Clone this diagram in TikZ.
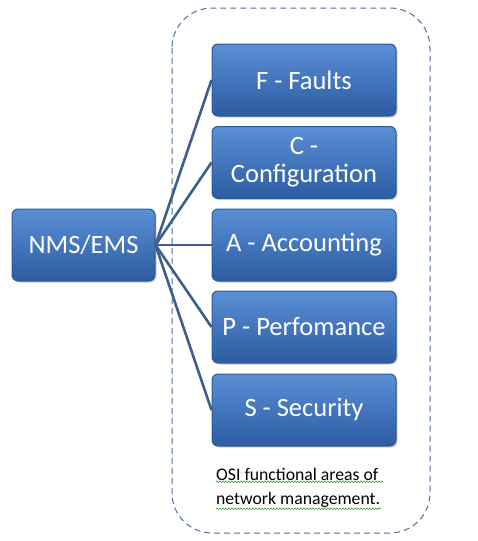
\documentclass[tikz,border=0pt]{standalone}
\usepackage{fontspec}
\setmainfont{Carlito}
\usetikzlibrary{decorations.pathmorphing,shadows}
\definecolor{boxtop}{HTML}{5A8FD6}
\definecolor{boxmid}{HTML}{3A70BA}
\definecolor{boxbot}{HTML}{2C5CA2}
\definecolor{boxedge}{HTML}{2E5A95}
\definecolor{linkc}{HTML}{3D5F8C}
\definecolor{dashc}{HTML}{4D6F9C}
\definecolor{wavyc}{HTML}{3FA040}
\tikzset{
  fbox/.style={rectangle, rounded corners=6pt, draw=boxedge, line width=1pt,
    top color=boxtop, middle color=boxmid, bottom color=boxbot, text=white,
    minimum width=184pt, minimum height=72pt, inner sep=2pt, align=center,
    font=\fontsize{26.5}{28}\selectfont,
    drop shadow={shadow xshift=1.5pt, shadow yshift=-1.5pt, opacity=0.35}},
  mainbox/.style={fbox, minimum width=143pt},
  link/.style={draw=linkc, line width=2.6pt},
  group/.style={draw=dashc, line width=1pt, dash pattern=on 6pt off 4pt, rounded corners=40pt},
  note/.style={anchor=base west, inner sep=0pt, font=\fontsize{17.7}{20}\selectfont, text=black},
  wavy/.style={draw=wavyc, line width=0.6pt, decorate, decoration={snake, amplitude=0.9pt, segment length=3pt}}
}
\begin{document}
\begin{tikzpicture}[x=1pt,y=-1pt]
\useasboundingbox (0,0) rectangle (477,541);
\draw[group] (172,8) rectangle (430,533);
\node[mainbox] (nms) at (83.5,245) {NMS/EMS};
\node[fbox] (f) at (304,80) {F - Faults};
\node[fbox] (c) at (304,162.5) {C -\\Configuration};
\node[fbox] (a) at (304,245) {A - Accounting};
\node[fbox] (p) at (304,327) {P - Perfomance};
\node[fbox] (s) at (304,410) {S - Security};
\foreach \t in {f,c,a,p,s}{
  \draw[link] (nms.east) -- (\t.west);
}
\node[note] (n1) at (216,480) {OSI functional areas of};
\node[note] (n2) at (216,504) {network management.};
\draw[wavy] (n1.south west) ++(0,1.5) -- ++(167,0);
\draw[wavy] (n2.south west) ++(0,1.5) -- ++(165,0);
\end{tikzpicture}
\end{document}
